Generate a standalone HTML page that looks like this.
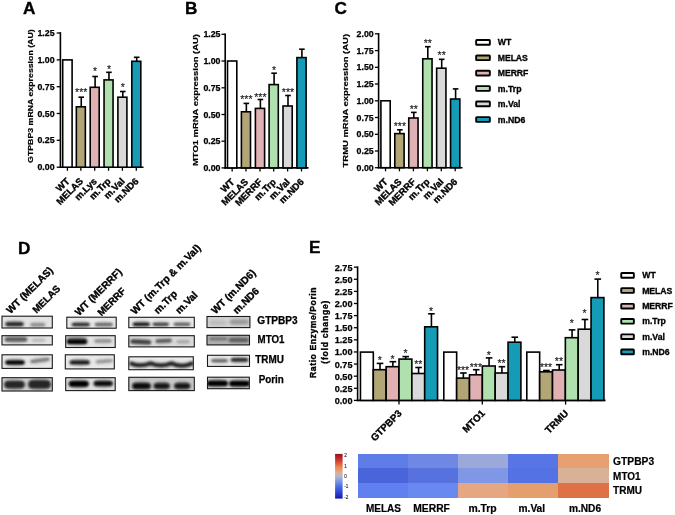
<!DOCTYPE html>
<html lang="en"><head><meta charset="utf-8"><title>Figure</title>
<style>
html,body{margin:0;padding:0;background:#fff;}
body{width:675px;height:515px;overflow:hidden;}
svg{display:block;font-family:"Liberation Sans",sans-serif;}
</style></head><body>
<svg width="675" height="515" viewBox="0 0 675 515">
<defs><clipPath id="c1"><rect x="1.5" y="315.7" width="51.3" height="12.800000000000011"/></clipPath><clipPath id="c2"><rect x="1.5" y="335.2" width="51.3" height="10.199999999999989"/></clipPath><clipPath id="c3"><rect x="1.5" y="354.3" width="51.3" height="14.599999999999966"/></clipPath><clipPath id="c4"><rect x="1.5" y="377.2" width="51.3" height="14.300000000000011"/></clipPath><clipPath id="c5"><rect x="66.3" y="316.7" width="50.400000000000006" height="12.0"/></clipPath><clipPath id="c6"><rect x="65.2" y="335.2" width="50.5" height="12.800000000000011"/></clipPath><clipPath id="c7"><rect x="64.8" y="354.3" width="50.0" height="15.099999999999966"/></clipPath><clipPath id="c8"><rect x="65.2" y="377.2" width="50.5" height="13.900000000000034"/></clipPath><clipPath id="c9"><rect x="128.3" y="316.8" width="66.5" height="11.399999999999977"/></clipPath><clipPath id="c10"><rect x="128.3" y="335.2" width="66.5" height="12.199999999999989"/></clipPath><clipPath id="c11"><rect x="128.3" y="356.3" width="65.5" height="13.899999999999977"/></clipPath><clipPath id="c12"><rect x="128.3" y="376.8" width="66.5" height="14.300000000000011"/></clipPath><clipPath id="c13"><rect x="206.5" y="316.0" width="43.900000000000006" height="12.100000000000023"/></clipPath><clipPath id="c14"><rect x="206.5" y="334.8" width="43.5" height="10.599999999999966"/></clipPath><clipPath id="c15"><rect x="207.0" y="354.8" width="43.0" height="12.099999999999966"/></clipPath><clipPath id="c16"><rect x="207.0" y="376.7" width="42.80000000000001" height="12.5"/></clipPath><filter id="b0_85" x="-30%" y="-200%" width="160%" height="500%"><feGaussianBlur stdDeviation="0.85"/></filter><filter id="b1_3" x="-30%" y="-200%" width="160%" height="500%"><feGaussianBlur stdDeviation="1.3"/></filter><filter id="b1_5" x="-30%" y="-200%" width="160%" height="500%"><feGaussianBlur stdDeviation="1.5"/></filter><filter id="b1_8" x="-30%" y="-200%" width="160%" height="500%"><feGaussianBlur stdDeviation="1.8"/></filter><linearGradient id="cbar" x1="0" y1="0" x2="0" y2="1">
<stop offset="0" stop-color="#980e1e"/><stop offset="0.14" stop-color="#cc382e"/><stop offset="0.3" stop-color="#ec8852"/>
<stop offset="0.42" stop-color="#dfae90"/><stop offset="0.5" stop-color="#b6b6c6"/><stop offset="0.58" stop-color="#8ca2e2"/><stop offset="0.72" stop-color="#4c72e4"/><stop offset="0.88" stop-color="#2a40d0"/><stop offset="1" stop-color="#1414a8"/></linearGradient></defs>
<rect width="675" height="515" fill="#fff"/>
<text x="23" y="14.2" font-size="17.2" font-weight="bold" text-anchor="start" fill="#000" stroke="#000" stroke-width="0.35">A</text>
<line x1="60.4" y1="32.2" x2="60.4" y2="168.0" stroke="#000" stroke-width="1.6" stroke-linecap="butt"/>
<line x1="56.699999999999996" y1="33.0" x2="60.4" y2="33.0" stroke="#000" stroke-width="1.3" stroke-linecap="butt"/>
<text x="54.6" y="36.17" font-size="8.8" font-weight="bold" text-anchor="end" stroke="#000" stroke-width="0.25">1.25</text>
<line x1="56.699999999999996" y1="59.9" x2="60.4" y2="59.9" stroke="#000" stroke-width="1.3" stroke-linecap="butt"/>
<text x="54.6" y="63.07" font-size="8.8" font-weight="bold" text-anchor="end" stroke="#000" stroke-width="0.25">1.00</text>
<line x1="56.699999999999996" y1="86.7" x2="60.4" y2="86.7" stroke="#000" stroke-width="1.3" stroke-linecap="butt"/>
<text x="54.6" y="89.87" font-size="8.8" font-weight="bold" text-anchor="end" stroke="#000" stroke-width="0.25">0.75</text>
<line x1="56.699999999999996" y1="113.5" x2="60.4" y2="113.5" stroke="#000" stroke-width="1.3" stroke-linecap="butt"/>
<text x="54.6" y="116.67" font-size="8.8" font-weight="bold" text-anchor="end" stroke="#000" stroke-width="0.25">0.50</text>
<line x1="56.699999999999996" y1="140.3" x2="60.4" y2="140.3" stroke="#000" stroke-width="1.3" stroke-linecap="butt"/>
<text x="54.6" y="143.47" font-size="8.8" font-weight="bold" text-anchor="end" stroke="#000" stroke-width="0.25">0.25</text>
<line x1="56.699999999999996" y1="167.2" x2="60.4" y2="167.2" stroke="#000" stroke-width="1.3" stroke-linecap="butt"/>
<text x="54.6" y="170.37" font-size="8.8" font-weight="bold" text-anchor="end" stroke="#000" stroke-width="0.25">0.00</text>
<line x1="59.6" y1="167.2" x2="143.5" y2="167.2" stroke="#000" stroke-width="1.6" stroke-linecap="butt"/>
<line x1="67.4" y1="167.2" x2="67.4" y2="170.79999999999998" stroke="#000" stroke-width="1.3" stroke-linecap="butt"/>
<rect x="62.70" y="59.90" width="9.40" height="107.30" fill="#ffffff" stroke="#000" stroke-width="1.6"/>
<text x="70.3" y="181.9" font-size="9.5" font-weight="bold" text-anchor="end" fill="#000" stroke="#000" stroke-width="0.35" transform="rotate(-45 70.3 181.9)">WT</text>
<line x1="80.85" y1="167.2" x2="80.85" y2="170.79999999999998" stroke="#000" stroke-width="1.3" stroke-linecap="butt"/>
<line x1="81.25" y1="97.2" x2="81.25" y2="106.8" stroke="#000" stroke-width="1.6" stroke-linecap="butt"/>
<line x1="78.45" y1="97.2" x2="84.05" y2="97.2" stroke="#000" stroke-width="1.6" stroke-linecap="butt"/>
<rect x="76.35" y="106.80" width="9.00" height="60.40" fill="#b3a676" stroke="#000" stroke-width="1.6"/>
<text x="81.25" y="95.88" font-size="10.5" font-weight="normal" text-anchor="middle" fill="#222" stroke="#222" stroke-width="0.15">***</text>
<text x="83.75" y="181.9" font-size="9.5" font-weight="bold" text-anchor="end" fill="#000" stroke="#000" stroke-width="0.35" transform="rotate(-45 83.75 181.9)">MELAS</text>
<line x1="94.7" y1="167.2" x2="94.7" y2="170.79999999999998" stroke="#000" stroke-width="1.3" stroke-linecap="butt"/>
<line x1="95.10000000000001" y1="76.5" x2="95.10000000000001" y2="87.3" stroke="#000" stroke-width="1.6" stroke-linecap="butt"/>
<line x1="92.30000000000001" y1="76.5" x2="97.9" y2="76.5" stroke="#000" stroke-width="1.6" stroke-linecap="butt"/>
<rect x="90.20" y="87.30" width="9.00" height="79.90" fill="#e0b1b3" stroke="#000" stroke-width="1.6"/>
<text x="95.10000000000001" y="74.88" font-size="10.5" font-weight="normal" text-anchor="middle" fill="#222" stroke="#222" stroke-width="0.15">*</text>
<text x="97.6" y="181.9" font-size="9.5" font-weight="bold" text-anchor="end" fill="#000" stroke="#000" stroke-width="0.35" transform="rotate(-45 97.6 181.9)">m.Lys</text>
<line x1="108.55" y1="167.2" x2="108.55" y2="170.79999999999998" stroke="#000" stroke-width="1.3" stroke-linecap="butt"/>
<line x1="108.95" y1="72.3" x2="108.95" y2="79.9" stroke="#000" stroke-width="1.6" stroke-linecap="butt"/>
<line x1="106.15" y1="72.3" x2="111.75" y2="72.3" stroke="#000" stroke-width="1.6" stroke-linecap="butt"/>
<rect x="104.05" y="79.90" width="9.00" height="87.30" fill="#b0e0ae" stroke="#000" stroke-width="1.6"/>
<text x="108.95" y="73.08" font-size="10.5" font-weight="normal" text-anchor="middle" fill="#222" stroke="#222" stroke-width="0.15">*</text>
<text x="111.45" y="181.9" font-size="9.5" font-weight="bold" text-anchor="end" fill="#000" stroke="#000" stroke-width="0.35" transform="rotate(-45 111.45 181.9)">m.Trp</text>
<line x1="122.4" y1="167.2" x2="122.4" y2="170.79999999999998" stroke="#000" stroke-width="1.3" stroke-linecap="butt"/>
<line x1="122.80000000000001" y1="91.5" x2="122.80000000000001" y2="97.2" stroke="#000" stroke-width="1.6" stroke-linecap="butt"/>
<line x1="120.00000000000001" y1="91.5" x2="125.60000000000001" y2="91.5" stroke="#000" stroke-width="1.6" stroke-linecap="butt"/>
<rect x="117.90" y="97.20" width="9.00" height="70.00" fill="#d9d9d9" stroke="#000" stroke-width="1.6"/>
<text x="122.80000000000001" y="91.08" font-size="10.5" font-weight="normal" text-anchor="middle" fill="#222" stroke="#222" stroke-width="0.15">*</text>
<text x="125.3" y="181.9" font-size="9.5" font-weight="bold" text-anchor="end" fill="#000" stroke="#000" stroke-width="0.35" transform="rotate(-45 125.3 181.9)">m.Val</text>
<line x1="136.3" y1="167.2" x2="136.3" y2="170.79999999999998" stroke="#000" stroke-width="1.3" stroke-linecap="butt"/>
<line x1="136.70000000000002" y1="57.3" x2="136.70000000000002" y2="61.3" stroke="#000" stroke-width="1.6" stroke-linecap="butt"/>
<line x1="133.9" y1="57.3" x2="139.50000000000003" y2="57.3" stroke="#000" stroke-width="1.6" stroke-linecap="butt"/>
<rect x="131.80" y="61.30" width="9.00" height="105.90" fill="#169bb7" stroke="#000" stroke-width="1.6"/>
<text x="139.2" y="181.9" font-size="9.5" font-weight="bold" text-anchor="end" fill="#000" stroke="#000" stroke-width="0.35" transform="rotate(-45 139.2 181.9)">m.ND6</text>
<text x="33.2" y="96.1" font-size="8.1" font-weight="bold" text-anchor="middle" fill="#000" stroke="#000" stroke-width="0.2" transform="rotate(-90 33.2 96.1)" textLength="133.6" lengthAdjust="spacingAndGlyphs">GTPBP3 mRNA expression (AU)</text>
<text x="185.0" y="13.9" font-size="17.2" font-weight="bold" text-anchor="start" fill="#000" stroke="#000" stroke-width="0.35">B</text>
<line x1="225.2" y1="33.5" x2="225.2" y2="168.70000000000002" stroke="#000" stroke-width="1.6" stroke-linecap="butt"/>
<line x1="221.5" y1="34.3" x2="225.2" y2="34.3" stroke="#000" stroke-width="1.3" stroke-linecap="butt"/>
<text x="220.5" y="37.47" font-size="8.8" font-weight="bold" text-anchor="end" stroke="#000" stroke-width="0.25">1.25</text>
<line x1="221.5" y1="61.0" x2="225.2" y2="61.0" stroke="#000" stroke-width="1.3" stroke-linecap="butt"/>
<text x="220.5" y="64.17" font-size="8.8" font-weight="bold" text-anchor="end" stroke="#000" stroke-width="0.25">1.00</text>
<line x1="221.5" y1="87.8" x2="225.2" y2="87.8" stroke="#000" stroke-width="1.3" stroke-linecap="butt"/>
<text x="220.5" y="90.97" font-size="8.8" font-weight="bold" text-anchor="end" stroke="#000" stroke-width="0.25">0.75</text>
<line x1="221.5" y1="114.5" x2="225.2" y2="114.5" stroke="#000" stroke-width="1.3" stroke-linecap="butt"/>
<text x="220.5" y="117.67" font-size="8.8" font-weight="bold" text-anchor="end" stroke="#000" stroke-width="0.25">0.50</text>
<line x1="221.5" y1="141.2" x2="225.2" y2="141.2" stroke="#000" stroke-width="1.3" stroke-linecap="butt"/>
<text x="220.5" y="144.37" font-size="8.8" font-weight="bold" text-anchor="end" stroke="#000" stroke-width="0.25">0.25</text>
<line x1="221.5" y1="167.9" x2="225.2" y2="167.9" stroke="#000" stroke-width="1.3" stroke-linecap="butt"/>
<text x="220.5" y="171.07" font-size="8.8" font-weight="bold" text-anchor="end" stroke="#000" stroke-width="0.25">0.00</text>
<line x1="224.39999999999998" y1="167.9" x2="308.5" y2="167.9" stroke="#000" stroke-width="1.6" stroke-linecap="butt"/>
<line x1="232.14999999999998" y1="167.9" x2="232.14999999999998" y2="171.5" stroke="#000" stroke-width="1.3" stroke-linecap="butt"/>
<rect x="227.50" y="61.00" width="9.30" height="106.90" fill="#ffffff" stroke="#000" stroke-width="1.6"/>
<text x="235.05" y="182.6" font-size="9.5" font-weight="bold" text-anchor="end" fill="#000" stroke="#000" stroke-width="0.35" transform="rotate(-45 235.05 182.6)">WT</text>
<line x1="245.95" y1="167.9" x2="245.95" y2="171.5" stroke="#000" stroke-width="1.3" stroke-linecap="butt"/>
<line x1="246.35" y1="103.4" x2="246.35" y2="111.8" stroke="#000" stroke-width="1.6" stroke-linecap="butt"/>
<line x1="243.54999999999998" y1="103.4" x2="249.15" y2="103.4" stroke="#000" stroke-width="1.6" stroke-linecap="butt"/>
<rect x="241.40" y="111.80" width="9.10" height="56.10" fill="#b3a676" stroke="#000" stroke-width="1.6"/>
<text x="246.35" y="103.08" font-size="10.5" font-weight="normal" text-anchor="middle" fill="#222" stroke="#222" stroke-width="0.15">***</text>
<text x="248.85" y="182.6" font-size="9.5" font-weight="bold" text-anchor="end" fill="#000" stroke="#000" stroke-width="0.35" transform="rotate(-45 248.85 182.6)">MELAS</text>
<line x1="260.0" y1="167.9" x2="260.0" y2="171.5" stroke="#000" stroke-width="1.3" stroke-linecap="butt"/>
<line x1="260.4" y1="99.5" x2="260.4" y2="108.4" stroke="#000" stroke-width="1.6" stroke-linecap="butt"/>
<line x1="257.59999999999997" y1="99.5" x2="263.2" y2="99.5" stroke="#000" stroke-width="1.6" stroke-linecap="butt"/>
<rect x="255.40" y="108.40" width="9.20" height="59.50" fill="#e0b1b3" stroke="#000" stroke-width="1.6"/>
<text x="260.4" y="100.58" font-size="10.5" font-weight="normal" text-anchor="middle" fill="#222" stroke="#222" stroke-width="0.15">***</text>
<text x="262.9" y="182.6" font-size="9.5" font-weight="bold" text-anchor="end" fill="#000" stroke="#000" stroke-width="0.35" transform="rotate(-45 262.9 182.6)">MERRF</text>
<line x1="273.70000000000005" y1="167.9" x2="273.70000000000005" y2="171.5" stroke="#000" stroke-width="1.3" stroke-linecap="butt"/>
<line x1="274.1" y1="73.2" x2="274.1" y2="84.6" stroke="#000" stroke-width="1.6" stroke-linecap="butt"/>
<line x1="271.3" y1="73.2" x2="276.90000000000003" y2="73.2" stroke="#000" stroke-width="1.6" stroke-linecap="butt"/>
<rect x="269.10" y="84.60" width="9.20" height="83.30" fill="#b0e0ae" stroke="#000" stroke-width="1.6"/>
<text x="274.1" y="74.08" font-size="10.5" font-weight="normal" text-anchor="middle" fill="#222" stroke="#222" stroke-width="0.15">*</text>
<text x="276.6" y="182.6" font-size="9.5" font-weight="bold" text-anchor="end" fill="#000" stroke="#000" stroke-width="0.35" transform="rotate(-45 276.6 182.6)">m.Trp</text>
<line x1="287.6" y1="167.9" x2="287.6" y2="171.5" stroke="#000" stroke-width="1.3" stroke-linecap="butt"/>
<line x1="288.0" y1="95.5" x2="288.0" y2="106.0" stroke="#000" stroke-width="1.6" stroke-linecap="butt"/>
<line x1="285.2" y1="95.5" x2="290.8" y2="95.5" stroke="#000" stroke-width="1.6" stroke-linecap="butt"/>
<rect x="283.00" y="106.00" width="9.20" height="61.90" fill="#d9d9d9" stroke="#000" stroke-width="1.6"/>
<text x="288.0" y="96.28" font-size="10.5" font-weight="normal" text-anchor="middle" fill="#222" stroke="#222" stroke-width="0.15">***</text>
<text x="290.5" y="182.6" font-size="9.5" font-weight="bold" text-anchor="end" fill="#000" stroke="#000" stroke-width="0.35" transform="rotate(-45 290.5 182.6)">m.Val</text>
<line x1="301.5" y1="167.9" x2="301.5" y2="171.5" stroke="#000" stroke-width="1.3" stroke-linecap="butt"/>
<line x1="301.9" y1="49.2" x2="301.9" y2="57.6" stroke="#000" stroke-width="1.6" stroke-linecap="butt"/>
<line x1="299.09999999999997" y1="49.2" x2="304.7" y2="49.2" stroke="#000" stroke-width="1.6" stroke-linecap="butt"/>
<rect x="296.90" y="57.60" width="9.20" height="110.30" fill="#169bb7" stroke="#000" stroke-width="1.6"/>
<text x="304.4" y="182.6" font-size="9.5" font-weight="bold" text-anchor="end" fill="#000" stroke="#000" stroke-width="0.35" transform="rotate(-45 304.4 182.6)">m.ND6</text>
<text x="197.6" y="100" font-size="8.1" font-weight="bold" text-anchor="middle" fill="#000" stroke="#000" stroke-width="0.2" transform="rotate(-90 197.6 100)" textLength="132" lengthAdjust="spacingAndGlyphs">MTO1 mRNA expression (AU)</text>
<text x="334.6" y="14.0" font-size="17.2" font-weight="bold" text-anchor="start" fill="#000" stroke="#000" stroke-width="0.35">C</text>
<line x1="378.6" y1="33.0" x2="378.6" y2="168.5" stroke="#000" stroke-width="1.6" stroke-linecap="butt"/>
<line x1="374.90000000000003" y1="33.8" x2="378.6" y2="33.8" stroke="#000" stroke-width="1.3" stroke-linecap="butt"/>
<text x="373.7" y="36.97" font-size="8.8" font-weight="bold" text-anchor="end" stroke="#000" stroke-width="0.25">2.00</text>
<line x1="374.90000000000003" y1="50.6" x2="378.6" y2="50.6" stroke="#000" stroke-width="1.3" stroke-linecap="butt"/>
<text x="373.7" y="53.77" font-size="8.8" font-weight="bold" text-anchor="end" stroke="#000" stroke-width="0.25">1.75</text>
<line x1="374.90000000000003" y1="67.3" x2="378.6" y2="67.3" stroke="#000" stroke-width="1.3" stroke-linecap="butt"/>
<text x="373.7" y="70.47" font-size="8.8" font-weight="bold" text-anchor="end" stroke="#000" stroke-width="0.25">1.50</text>
<line x1="374.90000000000003" y1="84.0" x2="378.6" y2="84.0" stroke="#000" stroke-width="1.3" stroke-linecap="butt"/>
<text x="373.7" y="87.17" font-size="8.8" font-weight="bold" text-anchor="end" stroke="#000" stroke-width="0.25">1.25</text>
<line x1="374.90000000000003" y1="100.8" x2="378.6" y2="100.8" stroke="#000" stroke-width="1.3" stroke-linecap="butt"/>
<text x="373.7" y="103.97" font-size="8.8" font-weight="bold" text-anchor="end" stroke="#000" stroke-width="0.25">1.00</text>
<line x1="374.90000000000003" y1="117.5" x2="378.6" y2="117.5" stroke="#000" stroke-width="1.3" stroke-linecap="butt"/>
<text x="373.7" y="120.67" font-size="8.8" font-weight="bold" text-anchor="end" stroke="#000" stroke-width="0.25">0.75</text>
<line x1="374.90000000000003" y1="134.3" x2="378.6" y2="134.3" stroke="#000" stroke-width="1.3" stroke-linecap="butt"/>
<text x="373.7" y="137.47" font-size="8.8" font-weight="bold" text-anchor="end" stroke="#000" stroke-width="0.25">0.50</text>
<line x1="374.90000000000003" y1="151.0" x2="378.6" y2="151.0" stroke="#000" stroke-width="1.3" stroke-linecap="butt"/>
<text x="373.7" y="154.17" font-size="8.8" font-weight="bold" text-anchor="end" stroke="#000" stroke-width="0.25">0.25</text>
<line x1="374.90000000000003" y1="167.7" x2="378.6" y2="167.7" stroke="#000" stroke-width="1.3" stroke-linecap="butt"/>
<text x="373.7" y="170.87" font-size="8.8" font-weight="bold" text-anchor="end" stroke="#000" stroke-width="0.25">0.00</text>
<line x1="377.8" y1="167.7" x2="462.5" y2="167.7" stroke="#000" stroke-width="1.6" stroke-linecap="butt"/>
<line x1="385.55" y1="167.7" x2="385.55" y2="171.29999999999998" stroke="#000" stroke-width="1.3" stroke-linecap="butt"/>
<rect x="380.90" y="100.80" width="9.30" height="66.90" fill="#ffffff" stroke="#000" stroke-width="1.6"/>
<text x="388.45" y="182.4" font-size="9.5" font-weight="bold" text-anchor="end" fill="#000" stroke="#000" stroke-width="0.35" transform="rotate(-45 388.45 182.4)">WT</text>
<line x1="399.45" y1="167.7" x2="399.45" y2="171.29999999999998" stroke="#000" stroke-width="1.3" stroke-linecap="butt"/>
<line x1="399.84999999999997" y1="129.8" x2="399.84999999999997" y2="133.6" stroke="#000" stroke-width="1.6" stroke-linecap="butt"/>
<line x1="397.04999999999995" y1="129.8" x2="402.65" y2="129.8" stroke="#000" stroke-width="1.6" stroke-linecap="butt"/>
<rect x="394.80" y="133.60" width="9.30" height="34.10" fill="#b3a676" stroke="#000" stroke-width="1.6"/>
<text x="399.84999999999997" y="130.18" font-size="10.5" font-weight="normal" text-anchor="middle" fill="#222" stroke="#222" stroke-width="0.15">***</text>
<text x="402.35" y="182.4" font-size="9.5" font-weight="bold" text-anchor="end" fill="#000" stroke="#000" stroke-width="0.35" transform="rotate(-45 402.35 182.4)">MELAS</text>
<line x1="413.4" y1="167.7" x2="413.4" y2="171.29999999999998" stroke="#000" stroke-width="1.3" stroke-linecap="butt"/>
<line x1="413.79999999999995" y1="112.4" x2="413.79999999999995" y2="118.0" stroke="#000" stroke-width="1.6" stroke-linecap="butt"/>
<line x1="410.99999999999994" y1="112.4" x2="416.59999999999997" y2="112.4" stroke="#000" stroke-width="1.6" stroke-linecap="butt"/>
<rect x="408.75" y="118.00" width="9.30" height="49.70" fill="#e0b1b3" stroke="#000" stroke-width="1.6"/>
<text x="413.79999999999995" y="112.68" font-size="10.5" font-weight="normal" text-anchor="middle" fill="#222" stroke="#222" stroke-width="0.15">**</text>
<text x="416.3" y="182.4" font-size="9.5" font-weight="bold" text-anchor="end" fill="#000" stroke="#000" stroke-width="0.35" transform="rotate(-45 416.3 182.4)">MERRF</text>
<line x1="427.4" y1="167.7" x2="427.4" y2="171.29999999999998" stroke="#000" stroke-width="1.3" stroke-linecap="butt"/>
<line x1="427.79999999999995" y1="46.7" x2="427.79999999999995" y2="58.8" stroke="#000" stroke-width="1.6" stroke-linecap="butt"/>
<line x1="424.99999999999994" y1="46.7" x2="430.59999999999997" y2="46.7" stroke="#000" stroke-width="1.6" stroke-linecap="butt"/>
<rect x="422.75" y="58.80" width="9.30" height="108.90" fill="#b0e0ae" stroke="#000" stroke-width="1.6"/>
<text x="427.79999999999995" y="47.08" font-size="10.5" font-weight="normal" text-anchor="middle" fill="#222" stroke="#222" stroke-width="0.15">**</text>
<text x="430.3" y="182.4" font-size="9.5" font-weight="bold" text-anchor="end" fill="#000" stroke="#000" stroke-width="0.35" transform="rotate(-45 430.3 182.4)">m.Trp</text>
<line x1="441.3" y1="167.7" x2="441.3" y2="171.29999999999998" stroke="#000" stroke-width="1.3" stroke-linecap="butt"/>
<line x1="441.7" y1="59.3" x2="441.7" y2="68.2" stroke="#000" stroke-width="1.6" stroke-linecap="butt"/>
<line x1="438.9" y1="59.3" x2="444.5" y2="59.3" stroke="#000" stroke-width="1.6" stroke-linecap="butt"/>
<rect x="436.65" y="68.20" width="9.30" height="99.50" fill="#d9d9d9" stroke="#000" stroke-width="1.6"/>
<text x="441.7" y="59.38" font-size="10.5" font-weight="normal" text-anchor="middle" fill="#222" stroke="#222" stroke-width="0.15">**</text>
<text x="444.2" y="182.4" font-size="9.5" font-weight="bold" text-anchor="end" fill="#000" stroke="#000" stroke-width="0.35" transform="rotate(-45 444.2 182.4)">m.Val</text>
<line x1="455.2" y1="167.7" x2="455.2" y2="171.29999999999998" stroke="#000" stroke-width="1.3" stroke-linecap="butt"/>
<line x1="455.59999999999997" y1="88.9" x2="455.59999999999997" y2="99.0" stroke="#000" stroke-width="1.6" stroke-linecap="butt"/>
<line x1="452.79999999999995" y1="88.9" x2="458.4" y2="88.9" stroke="#000" stroke-width="1.6" stroke-linecap="butt"/>
<rect x="450.55" y="99.00" width="9.30" height="68.70" fill="#169bb7" stroke="#000" stroke-width="1.6"/>
<text x="458.1" y="182.4" font-size="9.5" font-weight="bold" text-anchor="end" fill="#000" stroke="#000" stroke-width="0.35" transform="rotate(-45 458.1 182.4)">m.ND6</text>
<text x="348.2" y="100.7" font-size="8.1" font-weight="bold" text-anchor="middle" fill="#000" stroke="#000" stroke-width="0.2" transform="rotate(-90 348.2 100.7)" textLength="133.5" lengthAdjust="spacingAndGlyphs">TRMU mRNA expression (AU)</text>
<rect x="476.15" y="40.05" width="13.70" height="4.70" rx="0.6" fill="#ffffff" stroke="#000" stroke-width="1.9"/>
<text x="497.8" y="45.45" font-size="8.7" font-weight="bold" text-anchor="start" fill="#000" stroke="#000" stroke-width="0.3">WT</text>
<rect x="476.15" y="55.45" width="13.70" height="4.70" rx="0.6" fill="#b3a676" stroke="#000" stroke-width="1.9"/>
<text x="497.8" y="60.85" font-size="8.7" font-weight="bold" text-anchor="start" fill="#000" stroke="#000" stroke-width="0.3" textLength="30" lengthAdjust="spacing">MELAS</text>
<rect x="476.15" y="70.75" width="13.70" height="4.70" rx="0.6" fill="#e0b1b3" stroke="#000" stroke-width="1.9"/>
<text x="497.8" y="76.15" font-size="8.7" font-weight="bold" text-anchor="start" fill="#000" stroke="#000" stroke-width="0.3" textLength="30.5" lengthAdjust="spacing">MERRF</text>
<rect x="476.15" y="86.15" width="13.70" height="4.70" rx="0.6" fill="#b0e0ae" stroke="#000" stroke-width="1.9"/>
<text x="497.8" y="91.55" font-size="8.7" font-weight="bold" text-anchor="start" fill="#000" stroke="#000" stroke-width="0.3">m.Trp</text>
<rect x="476.15" y="101.55" width="13.70" height="4.70" rx="0.6" fill="#d9d9d9" stroke="#000" stroke-width="1.9"/>
<text x="497.8" y="106.95" font-size="8.7" font-weight="bold" text-anchor="start" fill="#000" stroke="#000" stroke-width="0.3">m.Val</text>
<rect x="476.15" y="117.15" width="13.70" height="4.70" rx="0.6" fill="#169bb7" stroke="#000" stroke-width="1.9"/>
<text x="497.8" y="122.55" font-size="8.7" font-weight="bold" text-anchor="start" fill="#000" stroke="#000" stroke-width="0.3">m.ND6</text>
<text x="309.0" y="252.7" font-size="17.2" font-weight="bold" text-anchor="start" fill="#000" stroke="#000" stroke-width="0.35">E</text>
<line x1="357.6" y1="266.36" x2="357.6" y2="401.2" stroke="#000" stroke-width="1.6" stroke-linecap="butt"/>
<line x1="353.90000000000003" y1="267.16" x2="357.6" y2="267.16" stroke="#000" stroke-width="1.3" stroke-linecap="butt"/>
<text x="352.5" y="270.62" font-size="9.6" font-weight="bold" text-anchor="end" stroke="#000" stroke-width="0.25" textLength="17.8" lengthAdjust="spacingAndGlyphs">2.75</text>
<line x1="353.90000000000003" y1="279.27" x2="357.6" y2="279.27" stroke="#000" stroke-width="1.3" stroke-linecap="butt"/>
<text x="352.5" y="282.73" font-size="9.6" font-weight="bold" text-anchor="end" stroke="#000" stroke-width="0.25" textLength="17.8" lengthAdjust="spacingAndGlyphs">2.50</text>
<line x1="353.90000000000003" y1="291.39" x2="357.6" y2="291.39" stroke="#000" stroke-width="1.3" stroke-linecap="butt"/>
<text x="352.5" y="294.85" font-size="9.6" font-weight="bold" text-anchor="end" stroke="#000" stroke-width="0.25" textLength="17.8" lengthAdjust="spacingAndGlyphs">2.25</text>
<line x1="353.90000000000003" y1="303.5" x2="357.6" y2="303.5" stroke="#000" stroke-width="1.3" stroke-linecap="butt"/>
<text x="352.5" y="306.96" font-size="9.6" font-weight="bold" text-anchor="end" stroke="#000" stroke-width="0.25" textLength="17.8" lengthAdjust="spacingAndGlyphs">2.00</text>
<line x1="353.90000000000003" y1="315.61" x2="357.6" y2="315.61" stroke="#000" stroke-width="1.3" stroke-linecap="butt"/>
<text x="352.5" y="319.07" font-size="9.6" font-weight="bold" text-anchor="end" stroke="#000" stroke-width="0.25" textLength="17.8" lengthAdjust="spacingAndGlyphs">1.75</text>
<line x1="353.90000000000003" y1="327.72" x2="357.6" y2="327.72" stroke="#000" stroke-width="1.3" stroke-linecap="butt"/>
<text x="352.5" y="331.18" font-size="9.6" font-weight="bold" text-anchor="end" stroke="#000" stroke-width="0.25" textLength="17.8" lengthAdjust="spacingAndGlyphs">1.50</text>
<line x1="353.90000000000003" y1="339.84" x2="357.6" y2="339.84" stroke="#000" stroke-width="1.3" stroke-linecap="butt"/>
<text x="352.5" y="343.3" font-size="9.6" font-weight="bold" text-anchor="end" stroke="#000" stroke-width="0.25" textLength="17.8" lengthAdjust="spacingAndGlyphs">1.25</text>
<line x1="353.90000000000003" y1="351.95" x2="357.6" y2="351.95" stroke="#000" stroke-width="1.3" stroke-linecap="butt"/>
<text x="352.5" y="355.41" font-size="9.6" font-weight="bold" text-anchor="end" stroke="#000" stroke-width="0.25" textLength="17.8" lengthAdjust="spacingAndGlyphs">1.00</text>
<line x1="353.90000000000003" y1="364.06" x2="357.6" y2="364.06" stroke="#000" stroke-width="1.3" stroke-linecap="butt"/>
<text x="352.5" y="367.52" font-size="9.6" font-weight="bold" text-anchor="end" stroke="#000" stroke-width="0.25" textLength="17.8" lengthAdjust="spacingAndGlyphs">0.75</text>
<line x1="353.90000000000003" y1="376.17" x2="357.6" y2="376.17" stroke="#000" stroke-width="1.3" stroke-linecap="butt"/>
<text x="352.5" y="379.63" font-size="9.6" font-weight="bold" text-anchor="end" stroke="#000" stroke-width="0.25" textLength="17.8" lengthAdjust="spacingAndGlyphs">0.50</text>
<line x1="353.90000000000003" y1="388.29" x2="357.6" y2="388.29" stroke="#000" stroke-width="1.3" stroke-linecap="butt"/>
<text x="352.5" y="391.75" font-size="9.6" font-weight="bold" text-anchor="end" stroke="#000" stroke-width="0.25" textLength="17.8" lengthAdjust="spacingAndGlyphs">0.25</text>
<line x1="353.90000000000003" y1="400.4" x2="357.6" y2="400.4" stroke="#000" stroke-width="1.3" stroke-linecap="butt"/>
<text x="352.5" y="403.86" font-size="9.6" font-weight="bold" text-anchor="end" stroke="#000" stroke-width="0.25" textLength="17.8" lengthAdjust="spacingAndGlyphs">0.00</text>
<line x1="356.8" y1="400.4" x2="605.5" y2="400.4" stroke="#000" stroke-width="1.6" stroke-linecap="butt"/>
<line x1="399.0" y1="400.4" x2="399.0" y2="404.59999999999997" stroke="#000" stroke-width="1.3" stroke-linecap="butt"/>
<rect x="360.45" y="352.10" width="12.85" height="48.30" fill="#ffffff" stroke="#000" stroke-width="1.6"/>
<line x1="380.02500000000003" y1="363.4" x2="380.02500000000003" y2="369.7" stroke="#000" stroke-width="1.6" stroke-linecap="butt"/>
<line x1="376.725" y1="363.4" x2="383.32500000000005" y2="363.4" stroke="#000" stroke-width="1.6" stroke-linecap="butt"/>
<rect x="373.30" y="369.70" width="12.85" height="30.70" fill="#b3a676" stroke="#000" stroke-width="1.6"/>
<text x="379.725" y="364.28" font-size="10.5" font-weight="normal" text-anchor="middle" fill="#222" stroke="#222" stroke-width="0.15">*</text>
<line x1="392.875" y1="361.7" x2="392.875" y2="366.7" stroke="#000" stroke-width="1.6" stroke-linecap="butt"/>
<line x1="389.575" y1="361.7" x2="396.175" y2="361.7" stroke="#000" stroke-width="1.6" stroke-linecap="butt"/>
<rect x="386.15" y="366.70" width="12.85" height="33.70" fill="#e0b1b3" stroke="#000" stroke-width="1.6"/>
<text x="392.575" y="363.28" font-size="10.5" font-weight="normal" text-anchor="middle" fill="#222" stroke="#222" stroke-width="0.15">*</text>
<line x1="405.725" y1="356.6" x2="405.725" y2="359.1" stroke="#000" stroke-width="1.6" stroke-linecap="butt"/>
<line x1="402.425" y1="356.6" x2="409.02500000000003" y2="356.6" stroke="#000" stroke-width="1.6" stroke-linecap="butt"/>
<rect x="399.00" y="359.10" width="12.85" height="41.30" fill="#b0e0ae" stroke="#000" stroke-width="1.6"/>
<text x="405.425" y="357.48" font-size="10.5" font-weight="normal" text-anchor="middle" fill="#222" stroke="#222" stroke-width="0.15">*</text>
<line x1="418.575" y1="367.5" x2="418.575" y2="373.5" stroke="#000" stroke-width="1.6" stroke-linecap="butt"/>
<line x1="415.275" y1="367.5" x2="421.875" y2="367.5" stroke="#000" stroke-width="1.6" stroke-linecap="butt"/>
<rect x="411.85" y="373.50" width="12.85" height="26.90" fill="#d9d9d9" stroke="#000" stroke-width="1.6"/>
<text x="418.275" y="367.58" font-size="10.5" font-weight="normal" text-anchor="middle" fill="#222" stroke="#222" stroke-width="0.15">**</text>
<line x1="431.425" y1="313.8" x2="431.425" y2="326.8" stroke="#000" stroke-width="1.6" stroke-linecap="butt"/>
<line x1="428.125" y1="313.8" x2="434.725" y2="313.8" stroke="#000" stroke-width="1.6" stroke-linecap="butt"/>
<rect x="424.70" y="326.80" width="12.85" height="73.60" fill="#169bb7" stroke="#000" stroke-width="1.6"/>
<text x="431.125" y="314.68" font-size="10.5" font-weight="normal" text-anchor="middle" fill="#222" stroke="#222" stroke-width="0.15">*</text>
<text x="402.4" y="414.0" font-size="9.8" font-weight="bold" text-anchor="end" fill="#000" stroke="#000" stroke-width="0.35" transform="rotate(-45 402.4 414.0)">GTPBP3</text>
<line x1="482.3" y1="400.4" x2="482.3" y2="404.59999999999997" stroke="#000" stroke-width="1.3" stroke-linecap="butt"/>
<rect x="443.80" y="352.10" width="12.85" height="48.30" fill="#ffffff" stroke="#000" stroke-width="1.6"/>
<line x1="463.37500000000006" y1="373.0" x2="463.37500000000006" y2="378.1" stroke="#000" stroke-width="1.6" stroke-linecap="butt"/>
<line x1="460.07500000000005" y1="373.0" x2="466.67500000000007" y2="373.0" stroke="#000" stroke-width="1.6" stroke-linecap="butt"/>
<rect x="456.65" y="378.10" width="12.85" height="22.30" fill="#b3a676" stroke="#000" stroke-width="1.6"/>
<text x="463.07500000000005" y="374.38" font-size="10.5" font-weight="normal" text-anchor="middle" fill="#222" stroke="#222" stroke-width="0.15">***</text>
<line x1="476.225" y1="369.7" x2="476.225" y2="374.8" stroke="#000" stroke-width="1.6" stroke-linecap="butt"/>
<line x1="472.925" y1="369.7" x2="479.52500000000003" y2="369.7" stroke="#000" stroke-width="1.6" stroke-linecap="butt"/>
<rect x="469.50" y="374.80" width="12.85" height="25.60" fill="#e0b1b3" stroke="#000" stroke-width="1.6"/>
<text x="475.925" y="371.38" font-size="10.5" font-weight="normal" text-anchor="middle" fill="#222" stroke="#222" stroke-width="0.15">***</text>
<line x1="489.07500000000005" y1="357.9" x2="489.07500000000005" y2="366.0" stroke="#000" stroke-width="1.6" stroke-linecap="butt"/>
<line x1="485.77500000000003" y1="357.9" x2="492.37500000000006" y2="357.9" stroke="#000" stroke-width="1.6" stroke-linecap="butt"/>
<rect x="482.35" y="366.00" width="12.85" height="34.40" fill="#b0e0ae" stroke="#000" stroke-width="1.6"/>
<text x="488.77500000000003" y="358.68" font-size="10.5" font-weight="normal" text-anchor="middle" fill="#222" stroke="#222" stroke-width="0.15">*</text>
<line x1="501.925" y1="366.7" x2="501.925" y2="373.0" stroke="#000" stroke-width="1.6" stroke-linecap="butt"/>
<line x1="498.625" y1="366.7" x2="505.225" y2="366.7" stroke="#000" stroke-width="1.6" stroke-linecap="butt"/>
<rect x="495.20" y="373.00" width="12.85" height="27.40" fill="#d9d9d9" stroke="#000" stroke-width="1.6"/>
<text x="501.625" y="366.78" font-size="10.5" font-weight="normal" text-anchor="middle" fill="#222" stroke="#222" stroke-width="0.15">**</text>
<line x1="514.775" y1="337.2" x2="514.775" y2="342.2" stroke="#000" stroke-width="1.6" stroke-linecap="butt"/>
<line x1="511.47499999999997" y1="337.2" x2="518.0749999999999" y2="337.2" stroke="#000" stroke-width="1.6" stroke-linecap="butt"/>
<rect x="508.05" y="342.20" width="12.85" height="58.20" fill="#169bb7" stroke="#000" stroke-width="1.6"/>
<text x="485.7" y="414.0" font-size="9.8" font-weight="bold" text-anchor="end" fill="#000" stroke="#000" stroke-width="0.35" transform="rotate(-45 485.7 414.0)">MTO1</text>
<line x1="565.6" y1="400.4" x2="565.6" y2="404.59999999999997" stroke="#000" stroke-width="1.3" stroke-linecap="butt"/>
<rect x="526.80" y="352.10" width="12.85" height="48.30" fill="#ffffff" stroke="#000" stroke-width="1.6"/>
<line x1="546.375" y1="370.5" x2="546.375" y2="371.8" stroke="#000" stroke-width="1.6" stroke-linecap="butt"/>
<line x1="543.075" y1="370.5" x2="549.675" y2="370.5" stroke="#000" stroke-width="1.6" stroke-linecap="butt"/>
<rect x="539.65" y="371.80" width="12.85" height="28.60" fill="#b3a676" stroke="#000" stroke-width="1.6"/>
<text x="546.075" y="370.88" font-size="10.5" font-weight="normal" text-anchor="middle" fill="#222" stroke="#222" stroke-width="0.15">***</text>
<line x1="559.225" y1="364.7" x2="559.225" y2="370.0" stroke="#000" stroke-width="1.6" stroke-linecap="butt"/>
<line x1="555.9250000000001" y1="364.7" x2="562.525" y2="364.7" stroke="#000" stroke-width="1.6" stroke-linecap="butt"/>
<rect x="552.50" y="370.00" width="12.85" height="30.40" fill="#e0b1b3" stroke="#000" stroke-width="1.6"/>
<text x="558.9250000000001" y="365.48" font-size="10.5" font-weight="normal" text-anchor="middle" fill="#222" stroke="#222" stroke-width="0.15">**</text>
<line x1="572.0749999999999" y1="329.9" x2="572.0749999999999" y2="337.7" stroke="#000" stroke-width="1.6" stroke-linecap="butt"/>
<line x1="568.775" y1="329.9" x2="575.3749999999999" y2="329.9" stroke="#000" stroke-width="1.6" stroke-linecap="butt"/>
<rect x="565.35" y="337.70" width="12.85" height="62.70" fill="#b0e0ae" stroke="#000" stroke-width="1.6"/>
<text x="571.775" y="327.18" font-size="10.5" font-weight="normal" text-anchor="middle" fill="#222" stroke="#222" stroke-width="0.15">*</text>
<line x1="584.925" y1="319.5" x2="584.925" y2="329.2" stroke="#000" stroke-width="1.6" stroke-linecap="butt"/>
<line x1="581.625" y1="319.5" x2="588.2249999999999" y2="319.5" stroke="#000" stroke-width="1.6" stroke-linecap="butt"/>
<rect x="578.20" y="329.20" width="12.85" height="71.20" fill="#d9d9d9" stroke="#000" stroke-width="1.6"/>
<text x="584.625" y="317.38" font-size="10.5" font-weight="normal" text-anchor="middle" fill="#222" stroke="#222" stroke-width="0.15">*</text>
<line x1="597.775" y1="279.1" x2="597.775" y2="297.6" stroke="#000" stroke-width="1.6" stroke-linecap="butt"/>
<line x1="594.475" y1="279.1" x2="601.0749999999999" y2="279.1" stroke="#000" stroke-width="1.6" stroke-linecap="butt"/>
<rect x="591.05" y="297.60" width="12.85" height="102.80" fill="#169bb7" stroke="#000" stroke-width="1.6"/>
<text x="597.475" y="278.68" font-size="10.5" font-weight="normal" text-anchor="middle" fill="#222" stroke="#222" stroke-width="0.15">*</text>
<text x="569.0" y="414.0" font-size="9.8" font-weight="bold" text-anchor="end" fill="#000" stroke="#000" stroke-width="0.35" transform="rotate(-45 569.0 414.0)">TRMU</text>
<text x="316.5" y="332.7" font-size="8.6" font-weight="bold" text-anchor="middle" fill="#000" stroke="#000" stroke-width="0.35" transform="rotate(-90 316.5 332.7)" textLength="90.5" lengthAdjust="spacing">Ratio Enzyme/Porin</text>
<text x="328.4" y="332.2" font-size="8.6" font-weight="bold" text-anchor="middle" fill="#000" stroke="#000" stroke-width="0.35" transform="rotate(-90 328.4 332.2)" textLength="63" lengthAdjust="spacing">(fold change)</text>
<rect x="621.25" y="273.05" width="12.60" height="4.70" rx="0.6" fill="#ffffff" stroke="#000" stroke-width="1.9"/>
<text x="642.2" y="278.45" font-size="8.7" font-weight="bold" text-anchor="start" fill="#000" stroke="#000" stroke-width="0.3">WT</text>
<rect x="621.25" y="288.15" width="12.60" height="4.70" rx="0.6" fill="#b3a676" stroke="#000" stroke-width="1.9"/>
<text x="642.2" y="293.55" font-size="8.7" font-weight="bold" text-anchor="start" fill="#000" stroke="#000" stroke-width="0.3" textLength="30" lengthAdjust="spacing">MELAS</text>
<rect x="621.25" y="303.85" width="12.60" height="4.70" rx="0.6" fill="#e0b1b3" stroke="#000" stroke-width="1.9"/>
<text x="642.2" y="309.25" font-size="8.7" font-weight="bold" text-anchor="start" fill="#000" stroke="#000" stroke-width="0.3" textLength="30.5" lengthAdjust="spacing">MERRF</text>
<rect x="621.25" y="318.95" width="12.60" height="4.70" rx="0.6" fill="#b0e0ae" stroke="#000" stroke-width="1.9"/>
<text x="642.2" y="324.35" font-size="8.7" font-weight="bold" text-anchor="start" fill="#000" stroke="#000" stroke-width="0.3">m.Trp</text>
<rect x="621.25" y="334.35" width="12.60" height="4.70" rx="0.6" fill="#d9d9d9" stroke="#000" stroke-width="1.9"/>
<text x="642.2" y="339.75" font-size="8.7" font-weight="bold" text-anchor="start" fill="#000" stroke="#000" stroke-width="0.3">m.Val</text>
<rect x="621.25" y="349.55" width="12.60" height="4.70" rx="0.6" fill="#169bb7" stroke="#000" stroke-width="1.9"/>
<text x="642.2" y="354.95" font-size="8.7" font-weight="bold" text-anchor="start" fill="#000" stroke="#000" stroke-width="0.3">m.ND6</text>
<rect x="358.10" y="453.90" width="50.34" height="14.77" fill="#5e7de6" shape-rendering="crispEdges"/>
<rect x="408.14" y="453.90" width="50.34" height="14.77" fill="#6f88e3" shape-rendering="crispEdges"/>
<rect x="458.18" y="453.90" width="50.34" height="14.77" fill="#9aa8da" shape-rendering="crispEdges"/>
<rect x="508.22" y="453.90" width="50.34" height="14.77" fill="#5875e6" shape-rendering="crispEdges"/>
<rect x="558.26" y="453.90" width="50.34" height="14.77" fill="#e6a072" shape-rendering="crispEdges"/>
<rect x="358.10" y="468.37" width="50.34" height="14.77" fill="#4a64da" shape-rendering="crispEdges"/>
<rect x="408.14" y="468.37" width="50.34" height="14.77" fill="#5771de" shape-rendering="crispEdges"/>
<rect x="458.18" y="468.37" width="50.34" height="14.77" fill="#7f97e4" shape-rendering="crispEdges"/>
<rect x="508.22" y="468.37" width="50.34" height="14.77" fill="#5572e4" shape-rendering="crispEdges"/>
<rect x="558.26" y="468.37" width="50.34" height="14.77" fill="#d9b197" shape-rendering="crispEdges"/>
<rect x="358.10" y="482.84" width="50.34" height="14.77" fill="#5f80ee" shape-rendering="crispEdges"/>
<rect x="408.14" y="482.84" width="50.34" height="14.77" fill="#6988f0" shape-rendering="crispEdges"/>
<rect x="458.18" y="482.84" width="50.34" height="14.77" fill="#e5a781" shape-rendering="crispEdges"/>
<rect x="508.22" y="482.84" width="50.34" height="14.77" fill="#e59e6e" shape-rendering="crispEdges"/>
<rect x="558.26" y="482.84" width="50.34" height="14.77" fill="#de7146" shape-rendering="crispEdges"/>
<rect x="335.1" y="453.9" width="7.5" height="44.7" fill="url(#cbar)"/>
<text x="344.2" y="456.5" font-size="4.6" font-weight="normal" text-anchor="start" fill="#222" stroke="#222" stroke-width="0.1">2</text>
<text x="344.2" y="468.3" font-size="4.6" font-weight="normal" text-anchor="start" fill="#222" stroke="#222" stroke-width="0.1">1</text>
<text x="344.2" y="477.90000000000003" font-size="4.6" font-weight="normal" text-anchor="start" fill="#222" stroke="#222" stroke-width="0.1">0</text>
<text x="344.2" y="487.5" font-size="4.6" font-weight="normal" text-anchor="start" fill="#222" stroke="#222" stroke-width="0.1">-1</text>
<text x="344.2" y="498.6" font-size="4.6" font-weight="normal" text-anchor="start" fill="#222" stroke="#222" stroke-width="0.1">-2</text>
<text x="365.9" y="511.5" font-size="10.4" font-weight="bold" text-anchor="start" fill="#000" stroke="#000" stroke-width="0.2" textLength="35" lengthAdjust="spacingAndGlyphs">MELAS</text>
<text x="413.3" y="511.5" font-size="10.4" font-weight="bold" text-anchor="start" fill="#000" stroke="#000" stroke-width="0.2" textLength="36.6" lengthAdjust="spacingAndGlyphs">MERRF</text>
<text x="468.4" y="511.5" font-size="10.4" font-weight="bold" text-anchor="start" fill="#000" stroke="#000" stroke-width="0.2" textLength="28.3" lengthAdjust="spacingAndGlyphs">m.Trp</text>
<text x="518.5" y="511.5" font-size="10.4" font-weight="bold" text-anchor="start" fill="#000" stroke="#000" stroke-width="0.2" textLength="26.6" lengthAdjust="spacingAndGlyphs">m.Val</text>
<text x="568.9" y="511.5" font-size="10.4" font-weight="bold" text-anchor="start" fill="#000" stroke="#000" stroke-width="0.2" textLength="32.2" lengthAdjust="spacingAndGlyphs">m.ND6</text>
<text x="613.1" y="465.2" font-size="10.4" font-weight="bold" text-anchor="start" fill="#000" stroke="#000" stroke-width="0.2" textLength="41" lengthAdjust="spacingAndGlyphs">GTPBP3</text>
<text x="613.1" y="479.6" font-size="10.4" font-weight="bold" text-anchor="start" fill="#000" stroke="#000" stroke-width="0.2" textLength="27.5" lengthAdjust="spacingAndGlyphs">MTO1</text>
<text x="613.1" y="493.7" font-size="10.4" font-weight="bold" text-anchor="start" fill="#000" stroke="#000" stroke-width="0.2" textLength="29" lengthAdjust="spacingAndGlyphs">TRMU</text>
<text x="18.0" y="254.1" font-size="17.2" font-weight="bold" text-anchor="start" fill="#000" stroke="#000" stroke-width="0.35">D</text>
<g clip-path="url(#c1)"><rect x="1.5" y="315.7" width="51.3" height="12.800000000000011" fill="#e3e3e3"/>
<ellipse cx="14.5" cy="324.1" rx="10.20" ry="3.40" fill="#262626" opacity="0.32" filter="url(#b1_8)"/>
<rect x="5.5" y="322.30" width="18.0" height="3.6" rx="1.80" ry="1.80" fill="#262626" opacity="1" filter="url(#b0_85)"/>
<ellipse cx="37.75" cy="324.8" rx="8.45" ry="3.10" fill="#7c7c7c" opacity="0.26" filter="url(#b1_8)"/>
<rect x="30.5" y="323.30" width="14.5" height="3.0" rx="1.50" ry="1.50" fill="#7c7c7c" opacity="0.8" filter="url(#b0_85)"/>
</g>
<rect x="2.0" y="316.2" width="50.3" height="11.800000000000011" fill="none" stroke="#1a1a1a" stroke-width="1.1"/>
<g clip-path="url(#c2)"><rect x="1.5" y="335.2" width="51.3" height="10.199999999999989" fill="#e2e2e2"/>
<ellipse cx="16.0" cy="339.4" rx="12.20" ry="3.80" fill="#5a5a5a" opacity="0.32" filter="url(#b1_8)"/>
<rect x="5" y="337.20" width="22" height="4.4" rx="2.20" ry="2.20" fill="#5a5a5a" opacity="1" filter="url(#b0_85)"/>
<ellipse cx="38.5" cy="340.2" rx="7.70" ry="2.70" fill="#a8a8a8" opacity="0.22" filter="url(#b1_8)"/>
<rect x="32" y="339.10" width="13" height="2.2" rx="1.10" ry="1.10" fill="#a8a8a8" opacity="0.7" filter="url(#b0_85)"/>
</g>
<rect x="2.0" y="335.7" width="50.3" height="9.199999999999989" fill="none" stroke="#1a1a1a" stroke-width="1.1"/>
<g clip-path="url(#c3)"><rect x="1.5" y="354.3" width="51.3" height="14.599999999999966" fill="#e9e9e9"/>
<ellipse cx="15.0" cy="362.4" rx="10.70" ry="3.60" fill="#060606" opacity="0.32" filter="url(#b1_8)"/>
<rect x="5.5" y="360.40" width="19.0" height="4.0" rx="2.00" ry="2.00" fill="#060606" opacity="1" filter="url(#b0_85)"/>
<ellipse cx="40.0" cy="360.3" rx="10.70" ry="3.00" fill="#6a6a6a" opacity="0.29" filter="url(#b1_8)" transform="rotate(-8 40.0 360.3)"/>
<rect x="30.5" y="358.90" width="19.0" height="2.8" rx="1.40" ry="1.40" fill="#6a6a6a" opacity="0.9" filter="url(#b0_85)" transform="rotate(-8 40.0 360.3)"/>
</g>
<rect x="2.0" y="354.8" width="50.3" height="13.599999999999966" fill="none" stroke="#1a1a1a" stroke-width="1.1"/>
<g clip-path="url(#c4)"><rect x="1.5" y="377.2" width="51.3" height="14.300000000000011" fill="#cfcfcf"/>
<ellipse cx="14.5" cy="384.6" rx="11.20" ry="5.20" fill="#282828" opacity="0.32" filter="url(#b1_8)"/>
<rect x="4.5" y="381.00" width="20.0" height="7.2" rx="3.60" ry="3.60" fill="#282828" opacity="1" filter="url(#b0_85)"/>
<ellipse cx="39.5" cy="384.4" rx="12.20" ry="5.70" fill="#282828" opacity="0.32" filter="url(#b1_8)"/>
<rect x="28.5" y="380.30" width="22.0" height="8.2" rx="4.10" ry="4.10" fill="#282828" opacity="1" filter="url(#b0_85)"/>
</g>
<rect x="2.0" y="377.7" width="50.3" height="13.300000000000011" fill="none" stroke="#1a1a1a" stroke-width="1.1"/>
<g clip-path="url(#c5)"><rect x="66.3" y="316.7" width="50.400000000000006" height="12.0" fill="#e9e9e9"/>
<ellipse cx="80.75" cy="324.5" rx="9.95" ry="3.10" fill="#2c2c2c" opacity="0.32" filter="url(#b1_8)"/>
<rect x="72" y="323.00" width="17.5" height="3.0" rx="1.50" ry="1.50" fill="#2c2c2c" opacity="1" filter="url(#b0_85)"/>
<ellipse cx="103.75" cy="324.5" rx="9.95" ry="3.00" fill="#5e5e5e" opacity="0.29" filter="url(#b1_8)"/>
<rect x="95" y="323.10" width="17.5" height="2.8" rx="1.40" ry="1.40" fill="#5e5e5e" opacity="0.9" filter="url(#b0_85)"/>
</g>
<rect x="66.8" y="317.2" width="49.400000000000006" height="11.0" fill="none" stroke="#1a1a1a" stroke-width="1.1"/>
<g clip-path="url(#c6)"><rect x="65.2" y="335.2" width="50.5" height="12.800000000000011" fill="#e3e3e3"/>
<ellipse cx="76.75" cy="339.0" rx="10.95" ry="3.60" fill="#808080" opacity="0.22" filter="url(#b1_8)"/>
<rect x="67" y="337.00" width="19.5" height="4" rx="2.00" ry="2.00" fill="#808080" opacity="0.7" filter="url(#b0_85)"/>
<ellipse cx="77.0" cy="341.8" rx="11.20" ry="3.80" fill="#060606" opacity="0.32" filter="url(#b1_8)"/>
<rect x="67" y="339.60" width="20" height="4.4" rx="2.20" ry="2.20" fill="#060606" opacity="1" filter="url(#b0_85)"/>
<ellipse cx="103.0" cy="341.0" rx="9.70" ry="3.00" fill="#7e7e7e" opacity="0.26" filter="url(#b1_8)"/>
<rect x="94.5" y="339.60" width="17.0" height="2.8" rx="1.40" ry="1.40" fill="#7e7e7e" opacity="0.8" filter="url(#b0_85)"/>
</g>
<rect x="65.7" y="335.7" width="49.5" height="11.800000000000011" fill="none" stroke="#1a1a1a" stroke-width="1.1"/>
<g clip-path="url(#c7)"><rect x="64.8" y="354.3" width="50.0" height="15.099999999999966" fill="#e9e9e9"/>
<ellipse cx="79.75" cy="362.4" rx="10.95" ry="3.50" fill="#141414" opacity="0.32" filter="url(#b1_8)"/>
<rect x="70" y="360.50" width="19.5" height="3.8" rx="1.90" ry="1.90" fill="#141414" opacity="1" filter="url(#b0_85)"/>
<ellipse cx="104.25" cy="361.2" rx="9.45" ry="2.90" fill="#7a7a7a" opacity="0.26" filter="url(#b1_8)" transform="rotate(-5 104.25 361.2)"/>
<rect x="96" y="359.90" width="16.5" height="2.6" rx="1.30" ry="1.30" fill="#7a7a7a" opacity="0.8" filter="url(#b0_85)" transform="rotate(-5 104.25 361.2)"/>
</g>
<rect x="65.3" y="354.8" width="49.0" height="14.099999999999966" fill="none" stroke="#1a1a1a" stroke-width="1.1"/>
<g clip-path="url(#c8)"><rect x="65.2" y="377.2" width="50.5" height="13.900000000000034" fill="#dedede"/>
<ellipse cx="78.75" cy="383.8" rx="10.95" ry="4.50" fill="#030303" opacity="0.32" filter="url(#b1_8)"/>
<rect x="69" y="380.90" width="19.5" height="5.8" rx="2.90" ry="2.90" fill="#030303" opacity="1" filter="url(#b0_85)"/>
<ellipse cx="103.25" cy="383.6" rx="10.45" ry="4.10" fill="#080808" opacity="0.32" filter="url(#b1_8)"/>
<rect x="94" y="381.10" width="18.5" height="5.0" rx="2.50" ry="2.50" fill="#080808" opacity="1" filter="url(#b0_85)"/>
</g>
<rect x="65.7" y="377.7" width="49.5" height="12.900000000000034" fill="none" stroke="#1a1a1a" stroke-width="1.1"/>
<g clip-path="url(#c9)"><rect x="128.3" y="316.8" width="66.5" height="11.399999999999977" fill="#e9e9e9"/>
<ellipse cx="141.25" cy="324.2" rx="9.45" ry="3.10" fill="#141414" opacity="0.32" filter="url(#b1_8)"/>
<rect x="133" y="322.70" width="16.5" height="3.0" rx="1.50" ry="1.50" fill="#141414" opacity="1" filter="url(#b0_85)"/>
<ellipse cx="160.75" cy="324.3" rx="8.95" ry="2.90" fill="#343434" opacity="0.32" filter="url(#b1_8)"/>
<rect x="153" y="323.00" width="15.5" height="2.6" rx="1.30" ry="1.30" fill="#343434" opacity="1" filter="url(#b0_85)"/>
<ellipse cx="182.0" cy="324.3" rx="9.20" ry="2.80" fill="#565656" opacity="0.32" filter="url(#b1_8)"/>
<rect x="174" y="323.10" width="16" height="2.4" rx="1.20" ry="1.20" fill="#565656" opacity="1" filter="url(#b0_85)"/>
</g>
<rect x="128.8" y="317.3" width="65.5" height="10.399999999999977" fill="none" stroke="#1a1a1a" stroke-width="1.1"/>
<g clip-path="url(#c10)"><rect x="128.3" y="335.2" width="66.5" height="12.199999999999989" fill="#dcdcdc"/>
<ellipse cx="140.75" cy="341.9" rx="11.45" ry="3.40" fill="#3a3a3a" opacity="0.32" filter="url(#b1_8)" transform="rotate(3 140.75 341.9)"/>
<rect x="130.5" y="340.10" width="20.5" height="3.6" rx="1.80" ry="1.80" fill="#3a3a3a" opacity="1" filter="url(#b0_85)" transform="rotate(3 140.75 341.9)"/>
<ellipse cx="163.65" cy="340.9" rx="9.05" ry="3.00" fill="#4a4a4a" opacity="0.32" filter="url(#b1_8)" transform="rotate(-3 163.65 340.9)"/>
<rect x="155.8" y="339.50" width="15.699999999999989" height="2.8" rx="1.40" ry="1.40" fill="#4a4a4a" opacity="1" filter="url(#b0_85)" transform="rotate(-3 163.65 340.9)"/>
<ellipse cx="183.05" cy="341.8" rx="7.65" ry="2.90" fill="#9a9a9a" opacity="0.26" filter="url(#b1_8)"/>
<rect x="176.6" y="340.50" width="12.900000000000006" height="2.6" rx="1.30" ry="1.30" fill="#9a9a9a" opacity="0.8" filter="url(#b0_85)"/>
</g>
<rect x="128.8" y="335.7" width="65.5" height="11.199999999999989" fill="none" stroke="#1a1a1a" stroke-width="1.1"/>
<g clip-path="url(#c11)"><rect x="128.3" y="356.3" width="65.5" height="13.899999999999977" fill="#ebebeb"/>
<path d="M131.5,363.6 Q140,367.2 150.5,363.4 Q161,367.4 171.5,363.4 Q182,368 191.5,363.6" fill="none" stroke="#1c1c1c" stroke-width="5.9" stroke-linecap="round" opacity="0.3" filter="url(#b1_8)"/>
<path d="M131.5,363.6 Q140,367.2 150.5,363.4 Q161,367.4 171.5,363.4 Q182,368 191.5,363.6" fill="none" stroke="#1c1c1c" stroke-width="3.5" stroke-linecap="round" filter="url(#b0_85)"/>
</g>
<rect x="128.8" y="356.8" width="64.5" height="12.899999999999977" fill="none" stroke="#1a1a1a" stroke-width="1.1"/>
<g clip-path="url(#c12)"><rect x="128.3" y="376.8" width="66.5" height="14.300000000000011" fill="#c8c8c8"/>
<ellipse cx="141.5" cy="386.0" rx="10.20" ry="4.70" fill="#101010" opacity="0.32" filter="url(#b1_8)"/>
<rect x="132.5" y="382.90" width="18.0" height="6.2" rx="3.10" ry="3.10" fill="#101010" opacity="1" filter="url(#b0_85)"/>
<ellipse cx="161.75" cy="386.0" rx="8.95" ry="4.40" fill="#161616" opacity="0.32" filter="url(#b1_8)"/>
<rect x="154" y="383.20" width="15.5" height="5.6" rx="2.80" ry="2.80" fill="#161616" opacity="1" filter="url(#b0_85)"/>
<ellipse cx="182.25" cy="386.0" rx="8.95" ry="4.40" fill="#161616" opacity="0.32" filter="url(#b1_8)"/>
<rect x="174.5" y="383.20" width="15.5" height="5.6" rx="2.80" ry="2.80" fill="#161616" opacity="1" filter="url(#b0_85)"/>
</g>
<rect x="128.8" y="377.3" width="65.5" height="13.300000000000011" fill="none" stroke="#1a1a1a" stroke-width="1.1"/>
<g clip-path="url(#c13)"><rect x="206.5" y="316.0" width="43.900000000000006" height="12.100000000000023" fill="#d4d4d4"/>
<ellipse cx="218.0" cy="322.8" rx="9.20" ry="3.35" fill="#b4b4b4" opacity="0.26" filter="url(#b1_8)"/>
<rect x="210" y="321.05" width="16" height="3.5" rx="1.75" ry="1.75" fill="#b4b4b4" opacity="0.8" filter="url(#b1_5)"/>
<ellipse cx="239.25" cy="321.9" rx="10.45" ry="3.60" fill="#8c8c8c" opacity="0.27" filter="url(#b1_8)"/>
<rect x="230" y="319.90" width="18.5" height="4" rx="2.00" ry="2.00" fill="#8c8c8c" opacity="0.85" filter="url(#b1_5)"/>
</g>
<rect x="207.0" y="316.5" width="42.900000000000006" height="11.100000000000023" fill="none" stroke="#1a1a1a" stroke-width="1.1"/>
<g clip-path="url(#c14)"><rect x="206.5" y="334.8" width="43.5" height="10.599999999999966" fill="#b2b2b2"/>
<ellipse cx="218.25" cy="338.9" rx="9.95" ry="2.70" fill="#6a6a6a" opacity="0.29" filter="url(#b1_8)"/>
<rect x="209.5" y="337.80" width="17.5" height="2.2" rx="1.10" ry="1.10" fill="#6a6a6a" opacity="0.9" filter="url(#b1_3)"/>
<ellipse cx="238.75" cy="340.0" rx="10.95" ry="3.60" fill="#5a5a5a" opacity="0.29" filter="url(#b1_8)"/>
<rect x="229" y="338.00" width="19.5" height="4.0" rx="2.00" ry="2.00" fill="#5a5a5a" opacity="0.9" filter="url(#b1_3)"/>
</g>
<rect x="207.0" y="335.3" width="42.5" height="9.599999999999966" fill="none" stroke="#1a1a1a" stroke-width="1.1"/>
<g clip-path="url(#c15)"><rect x="207.0" y="354.8" width="43.0" height="12.099999999999966" fill="#ebebeb"/>
<ellipse cx="219.5" cy="360.8" rx="9.20" ry="2.80" fill="#4e4e4e" opacity="0.29" filter="url(#b1_8)"/>
<rect x="211.5" y="359.60" width="16.0" height="2.4" rx="1.20" ry="1.20" fill="#4e4e4e" opacity="0.9" filter="url(#b0_85)"/>
<ellipse cx="239.5" cy="359.9" rx="9.70" ry="3.20" fill="#242424" opacity="0.32" filter="url(#b1_8)"/>
<rect x="231" y="358.30" width="17" height="3.2" rx="1.60" ry="1.60" fill="#242424" opacity="1" filter="url(#b0_85)"/>
</g>
<rect x="207.5" y="355.3" width="42.0" height="11.099999999999966" fill="none" stroke="#1a1a1a" stroke-width="1.1"/>
<g clip-path="url(#c16)"><rect x="207.0" y="376.7" width="42.80000000000001" height="12.5" fill="#d8d8d8"/>
<ellipse cx="217.39999999999998" cy="383.4" rx="11.40" ry="4.30" fill="#040404" opacity="0.32" filter="url(#b1_8)"/>
<rect x="207.2" y="380.70" width="20.400000000000006" height="5.4" rx="2.70" ry="2.70" fill="#040404" opacity="1" filter="url(#b0_85)"/>
<ellipse cx="239.5" cy="383.6" rx="11.30" ry="4.30" fill="#040404" opacity="0.32" filter="url(#b1_8)"/>
<rect x="229.4" y="380.90" width="20.19999999999999" height="5.4" rx="2.70" ry="2.70" fill="#040404" opacity="1" filter="url(#b0_85)"/>
</g>
<rect x="207.5" y="377.2" width="41.80000000000001" height="11.5" fill="none" stroke="#1a1a1a" stroke-width="1.1"/>
<text x="257.3" y="324.3" font-size="10.4" font-weight="bold" text-anchor="start" fill="#000" stroke="#000" stroke-width="0.25" textLength="40.3" lengthAdjust="spacingAndGlyphs">GTPBP3</text>
<text x="257.6" y="342.6" font-size="10.4" font-weight="bold" text-anchor="start" fill="#000" stroke="#000" stroke-width="0.25" textLength="26.8" lengthAdjust="spacingAndGlyphs">MTO1</text>
<text x="255.2" y="362.8" font-size="10.4" font-weight="bold" text-anchor="start" fill="#000" stroke="#000" stroke-width="0.25" textLength="28.7" lengthAdjust="spacingAndGlyphs">TRMU</text>
<text x="258.7" y="383.1" font-size="10.4" font-weight="bold" text-anchor="start" fill="#000" stroke="#000" stroke-width="0.25" textLength="25.2" lengthAdjust="spacingAndGlyphs">Porin</text>
<text x="10.5" y="314.3" font-size="10.2" font-weight="bold" text-anchor="start" fill="#000" stroke="#000" stroke-width="0.35" transform="rotate(-45 10.5 314.3)">WT (MELAS)</text>
<text x="36.5" y="313.8" font-size="9.9" font-weight="bold" text-anchor="start" fill="#000" stroke="#000" stroke-width="0.35" transform="rotate(-45 36.5 313.8)">MELAS</text>
<text x="79" y="316.3" font-size="10.2" font-weight="bold" text-anchor="start" fill="#000" stroke="#000" stroke-width="0.35" transform="rotate(-45 79 316.3)">WT (MERRF)</text>
<text x="101.5" y="316.6" font-size="9.9" font-weight="bold" text-anchor="start" fill="#000" stroke="#000" stroke-width="0.35" transform="rotate(-45 101.5 316.6)">MERRF</text>
<text x="135" y="315" font-size="10.3" font-weight="bold" text-anchor="start" fill="#000" stroke="#000" stroke-width="0.35" transform="rotate(-45 135 315)">WT (m.Trp &amp; m.Val)</text>
<text x="158" y="314.5" font-size="10.3" font-weight="bold" text-anchor="start" fill="#000" stroke="#000" stroke-width="0.35" transform="rotate(-45 158 314.5)">m.Trp</text>
<text x="179.5" y="314.5" font-size="10.2" font-weight="bold" text-anchor="start" fill="#000" stroke="#000" stroke-width="0.35" transform="rotate(-45 179.5 314.5)">m.Val</text>
<text x="215.5" y="314.5" font-size="10.2" font-weight="bold" text-anchor="start" fill="#000" stroke="#000" stroke-width="0.35" transform="rotate(-45 215.5 314.5)">WT (m.ND6)</text>
<text x="237" y="314.5" font-size="10.2" font-weight="bold" text-anchor="start" fill="#000" stroke="#000" stroke-width="0.35" transform="rotate(-45 237 314.5)">m.ND6</text>
</svg>
</body></html>
